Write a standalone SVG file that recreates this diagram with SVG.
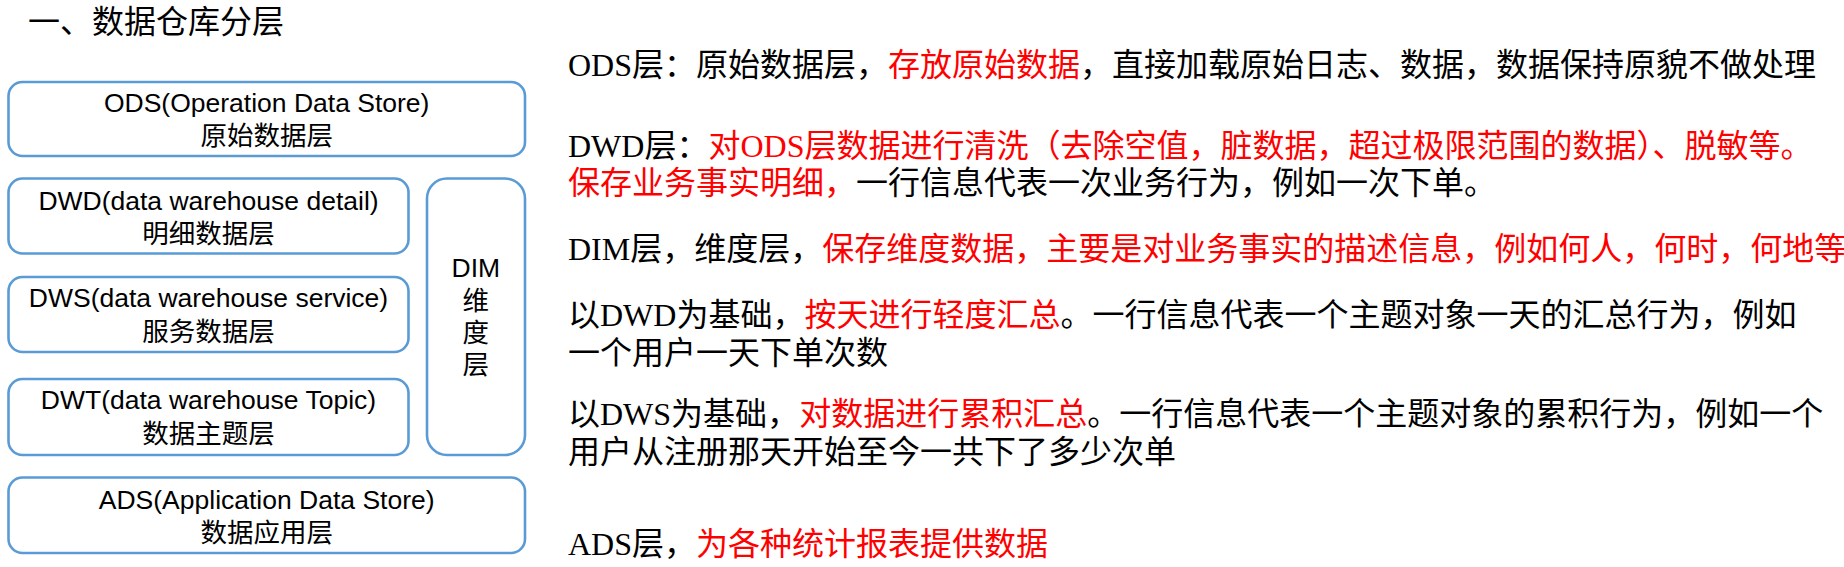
<svg xmlns="http://www.w3.org/2000/svg" width="1844" height="567" viewBox="0 0 1844 567">
<style>
.box{fill:#ffffff;stroke:#5B9BD5;stroke-width:2.6}
.bt{font-family:"Liberation Sans","Noto Sans CJK SC",sans-serif;font-size:26.5px;fill:#000;text-anchor:middle}
.title{font-family:"Liberation Serif","Noto Sans CJK SC",serif;font-size:32px;fill:#000}
.desc{font-family:"Liberation Serif","Noto Sans CJK SC",serif;font-size:32px;fill:#000}
.r{fill:#FF0000}
</style>
<rect width="1844" height="567" fill="#ffffff"/>
<text id="title" class="title" x="28" y="33">一、数据仓库分层</text>

<g id="ods">
<rect class="box" x="8.5" y="82" width="516.5" height="74" rx="14"/>
<text class="bt" x="266.7" y="111.5">ODS(Operation Data Store)</text>
<text class="bt" x="266.7" y="145">原始数据层</text>
</g>
<g id="dwd">
<rect class="box" x="8.5" y="178.5" width="400" height="75" rx="14"/>
<text class="bt" x="208.5" y="209.5">DWD(data warehouse detail)</text>
<text class="bt" x="208.5" y="243">明细数据层</text>
</g>
<g id="dws">
<rect class="box" x="8.5" y="277" width="400" height="75" rx="14"/>
<text class="bt" x="208.5" y="306.5">DWS(data warehouse service)</text>
<text class="bt" x="208.5" y="340.5">服务数据层</text>
</g>
<g id="dwt">
<rect class="box" x="8.5" y="379" width="400" height="76" rx="14"/>
<text class="bt" x="208.5" y="408.5">DWT(data warehouse Topic)</text>
<text class="bt" x="208.5" y="442.5">数据主题层</text>
</g>
<g id="ads">
<rect class="box" x="8.5" y="477.5" width="516.5" height="75.5" rx="14"/>
<text class="bt" x="266.7" y="508.5">ADS(Application Data Store)</text>
<text class="bt" x="266.7" y="542">数据应用层</text>
</g>
<g id="dim">
<rect class="box" x="427" y="178.5" width="98" height="276.5" rx="20"/>
<text class="bt" x="475.8" y="277.3">DIM</text>
<text class="bt" x="475.8" y="310">维</text>
<text class="bt" x="475.8" y="342">度</text>
<text class="bt" x="475.8" y="374">层</text>
</g>

<g id="connectors"/>

<g id="descriptions">
<text class="desc" x="568" y="76">ODS层：原始数据层，<tspan class="r">存放原始数据</tspan>，直接加载原始日志、数据，数据保持原貌不做处理</text>
<text class="desc" x="568" y="157">DWD层：<tspan class="r">对ODS层数据进行清洗（去除空值，脏数据，超过极限范围的数据）、脱敏等。</tspan></text>
<text class="desc" x="568" y="194"><tspan class="r">保存业务事实明细，</tspan>一行信息代表一次业务行为，例如一次下单。</text>
<text class="desc" x="568" y="260">DIM层，维度层，<tspan class="r">保存维度数据，主要是对业务事实的描述信息，例如何人，何时，何地等</tspan></text>
<text class="desc" x="568" y="326">以DWD为基础，<tspan class="r">按天进行轻度汇总</tspan>。一行信息代表一个主题对象一天的汇总行为，例如</text>
<text class="desc" x="568" y="364">一个用户一天下单次数</text>
<text class="desc" x="568" y="425">以DWS为基础，<tspan class="r">对数据进行累积汇总</tspan>。一行信息代表一个主题对象的累积行为，例如一个</text>
<text class="desc" x="568" y="463">用户从注册那天开始至今一共下了多少次单</text>
<text class="desc" x="568" y="555">ADS层，<tspan class="r">为各种统计报表提供数据</tspan></text>
</g>
</svg>
